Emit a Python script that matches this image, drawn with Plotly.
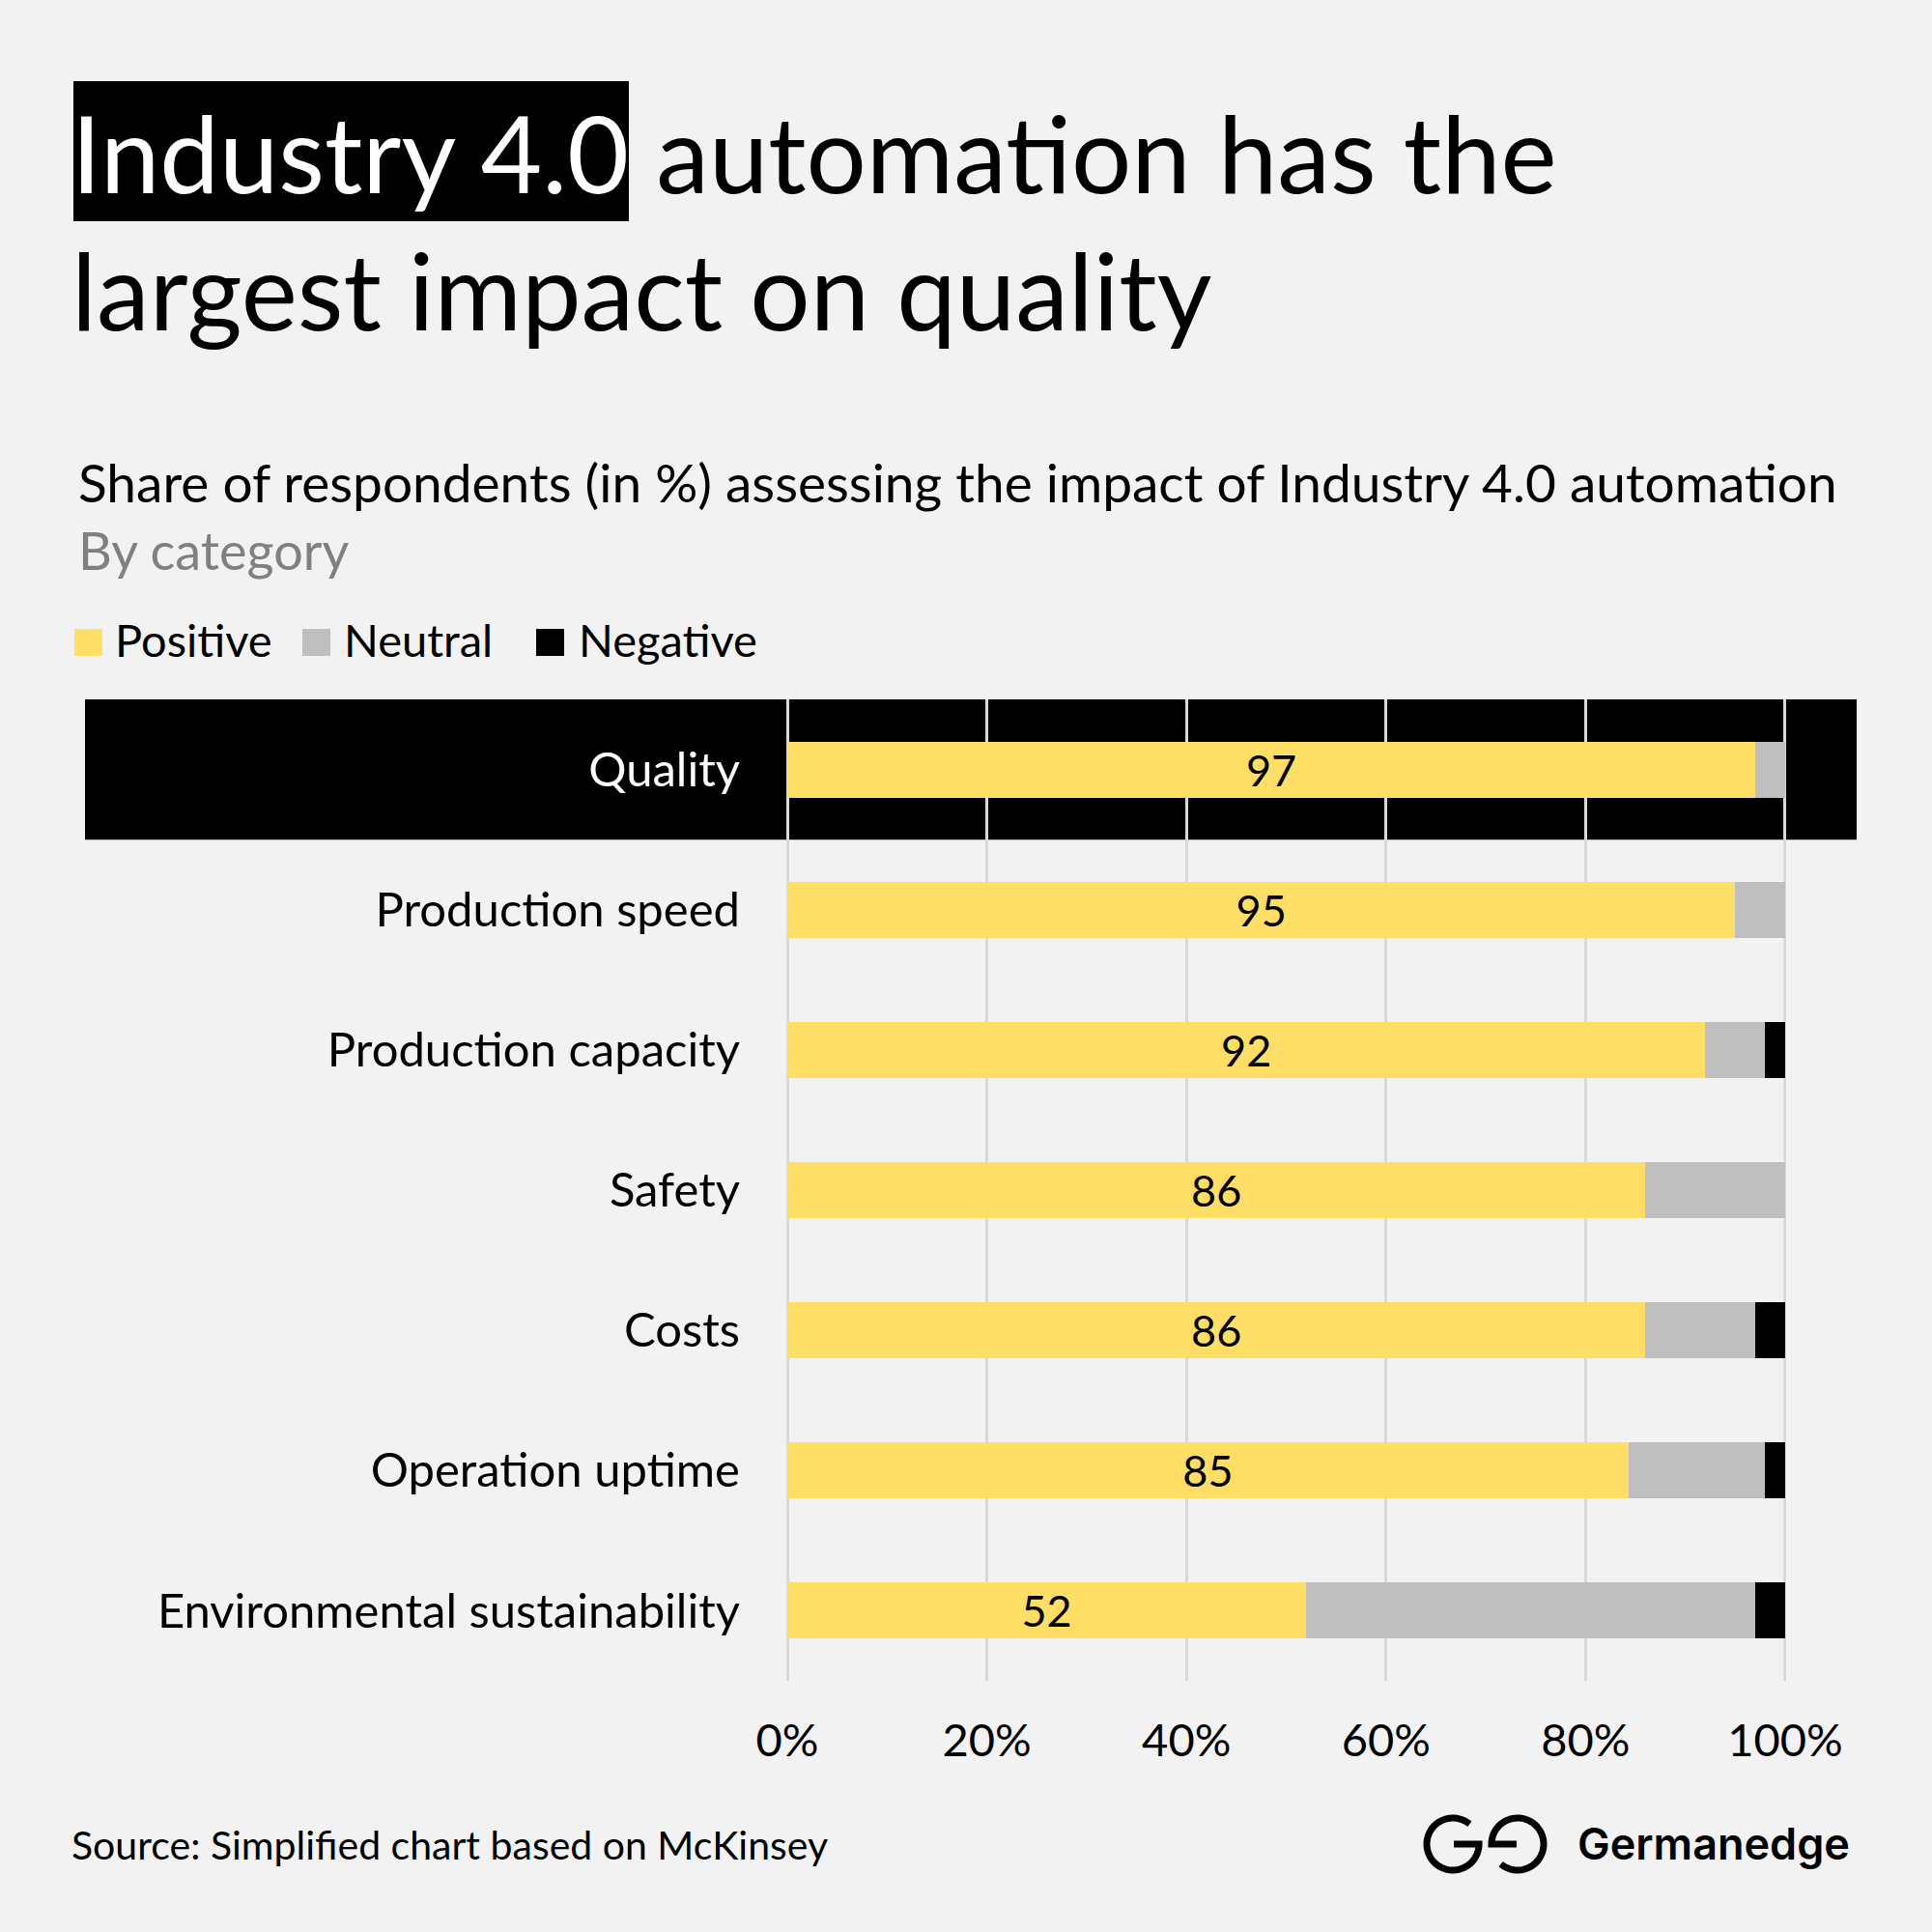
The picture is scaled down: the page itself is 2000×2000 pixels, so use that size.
import numpy as np
import plotly.graph_objects as go

# ---------------- data ----------------
categories = ["Quality", "Production speed", "Production capacity", "Safety",
              "Costs", "Operation uptime", "Environmental sustainability"]
positive = [97, 95, 92, 86, 86, 84.3, 52]
neutral = [3, 5, 6, 14, 11, 13.7, 45]
negative = [0, 0, 2, 0, 3, 2, 3]
positive_labels = ["97", "95", "92", "86", "86", "85", "52"]
x_tickvals = [0, 20, 40, 60, 80, 100]
x_ticktext = ["0%", "20%", "40%", "60%", "80%", "100%"]
series_names = ["Positive", "Neutral", "Negative"]
highlight_category = "Quality"

# ---------------- style ----------------
W = H = 2000
BG = "#F2F2F2"
YELLOW = "#FFDE66"
GREY = "#BFBFBF"
BLACK = "#000000"
FONT = "Lato"
colors = [YELLOW, GREY, BLACK]


def px(x):
    return x / W


def py(y):
    return 1 - y / H


fig = go.Figure()
for name, vals, col in zip(series_names, [positive, neutral, negative], colors):
    if name == "Positive":
        kw = dict(text=positive_labels, textposition="inside", insidetextanchor="middle",
                  textangle=0, textfont=dict(family=FONT, size=45, color=BLACK))
    else:
        kw = dict(textposition="none")
    fig.add_trace(go.Bar(
        y=categories, x=vals, name=name, orientation="h",
        marker=dict(color=col, line=dict(width=0)),
        showlegend=False, hoverinfo="skip", **kw))

ticktext_y = [f'<span style="color:white">{c}</span>' if c == highlight_category else c
              for c in categories]

# plot area in pixels; x range padded slightly so edge gridlines are drawn
plot_left, plot_right, plot_top, plot_bottom = 814, 1849, 724, 1740
xpad = 0.1

fig.update_layout(
    width=W, height=H,
    margin=dict(l=0, r=0, t=0, b=0, autoexpand=False),
    paper_bgcolor=BG, plot_bgcolor=BG,
    barmode="stack", bargap=0.6,
    uniformtext=dict(minsize=45, mode="show"),
    font=dict(family=FONT, color=BLACK),
    xaxis=dict(domain=[px(plot_left), px(plot_right)], range=[-xpad, 100 + xpad],
               tickvals=x_tickvals, ticktext=x_ticktext,
               showgrid=True, gridcolor="#D9D9D9", gridwidth=3,
               zeroline=False, showline=False, ticks="", automargin=False,
               tickfont=dict(family=FONT, size=47, color=BLACK),
               ticklabelstandoff=30, fixedrange=True),
    yaxis=dict(domain=[py(plot_bottom), py(plot_top)],
               categoryorder="array", categoryarray=categories,
               range=[len(categories) - 0.5, -0.5],
               tickvals=categories, ticktext=ticktext_y,
               showgrid=False, zeroline=False, showline=False, ticks="", automargin=False,
               tickfont=dict(family=FONT, size=49, color=BLACK),
               ticklabelstandoff=47, fixedrange=True),
)

shapes = []
# highlight band behind the first category
hi = categories.index(highlight_category)
shapes.append(dict(type="rect", xref="paper", yref="y", layer="below",
                   x0=px(88), x1=px(1922), y0=hi - 0.5, y1=hi + 0.5,
                   fillcolor=BLACK, line=dict(width=0)))
# title highlight box
shapes.append(dict(type="rect", xref="paper", yref="paper", layer="below",
                   x0=px(76), x1=px(651), y0=py(229), y1=py(84),
                   fillcolor=BLACK, line=dict(width=0)))

# legend squares
legend_items = [(77, 120), (313, 357), (555, 600)]
for (sx, tx), name, col in zip(legend_items, series_names, colors):
    shapes.append(dict(type="rect", xref="paper", yref="paper",
                       x0=px(sx), x1=px(sx + 29), y0=py(679), y1=py(651),
                       fillcolor=col, line=dict(width=0)))


# logo (two interlocking G shapes)
def g_path(cx, cy, r, rot):
    a = np.linspace(0, np.deg2rad(310), 60) + rot
    xs = cx + r * np.cos(a)
    ys = cy + r * np.sin(a)
    pts = list(zip(xs, ys))
    bx0 = cx + (r + 3.5) * np.cos(rot)
    by0 = cy + (r + 3.5) * np.sin(rot)
    bx1 = cx + 1 * np.cos(rot)
    by1 = cy + 1 * np.sin(rot)
    d = "M " + " L ".join(f"{px(x):.5f},{py(y):.5f}" for x, y in pts[::-1])
    d += f" M {px(bx0):.5f},{py(by0):.5f} L {px(bx1):.5f},{py(by1):.5f}"
    return d


for cx, rot in [(1504, 0.0), (1571, np.pi)]:
    shapes.append(dict(type="path", xref="paper", yref="paper",
                       path=g_path(cx, 1909, 27, rot),
                       line=dict(color=BLACK, width=7), fillcolor="rgba(0,0,0,0)"))

annotations = []


def add_text(text, x, y, size, color=BLACK, family=FONT, xanchor="left", weight=None):
    f = dict(family=family, size=size, color=color)
    if weight:
        f["weight"] = weight
    annotations.append(dict(text=text, x=px(x), y=py(y), xref="paper", yref="paper",
                            xanchor=xanchor, yanchor="middle", showarrow=False,
                            font=f, borderpad=0))


add_text('<span style="color:white">Industry 4.0</span> automation has the', 73, 157, 110)
add_text("largest impact on quality", 73, 299, 110)
add_text("Share of respondents (in %) assessing the impact of Industry 4.0 automation",
         80, 499, 55)
add_text("By category", 80, 570, 54, color="#808080")
for (sx, tx), name in zip(legend_items, series_names):
    add_text(name, tx - 2, 662, 47)
add_text("Source: Simplified chart based on McKinsey", 73, 1909, 41)
add_text("Germanedge", 1632, 1908, 45, family="Inter", weight=600)

fig.update_layout(shapes=shapes, annotations=annotations)
fig.write_html("out.html")
